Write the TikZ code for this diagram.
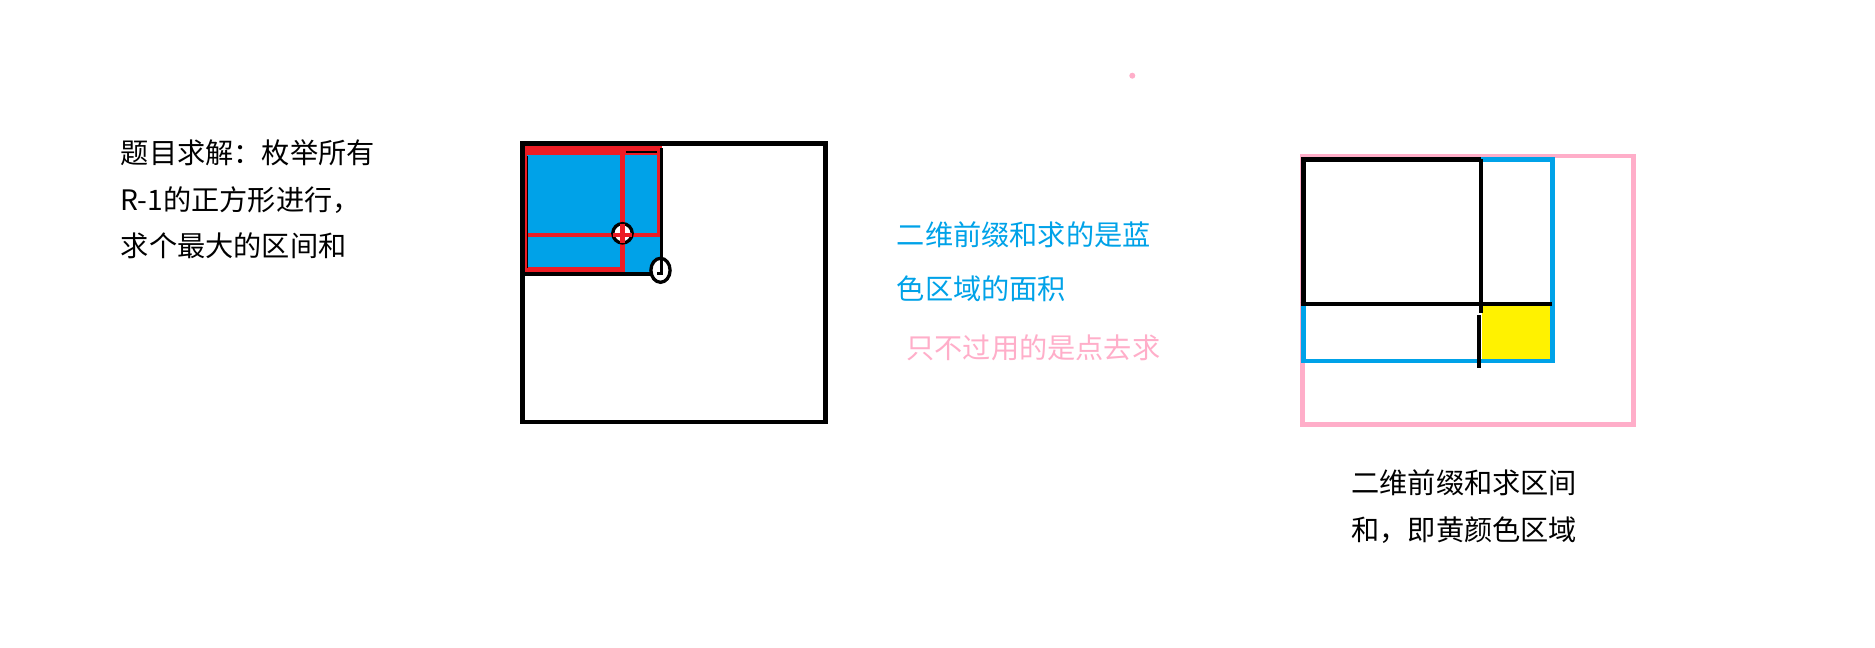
\documentclass[tikz,border=0pt]{standalone}
\usepackage{fontspec}
\usepackage{tikz}
\newfontfamily\cjk{Noto Sans CJK SC}
\definecolor{paintblue}{HTML}{00A2E8}
\definecolor{paintred}{HTML}{ED1C24}
\definecolor{paintyellow}{HTML}{FFF200}
\definecolor{paintpink}{HTML}{FFAEC9}

\begin{document}
\begin{tikzpicture}[x=0.5pt, y=-0.5pt,
    every node/.append style={font=\cjk\fontsize{14.1}{23.3}\selectfont, inner sep=0pt, anchor=north west, align=left},
    frame/.style={draw=black, line width=2.35pt},
    blackline/.style={draw=black, line width=2pt},
    thinline/.style={draw=black, line width=1.5pt},
    redline/.style={draw=paintred, line width=2.3pt},
    blueline/.style={draw=paintblue, line width=2.3pt},
    pinkline/.style={draw=paintpink, line width=2.35pt},
    ringline/.style={draw=black, fill=white, line width=1.65pt}]
    \useasboundingbox (0,0) rectangle (1875,648);

    \node (task) at (120.5,139.5) {题目求解：枚举所有\\R-1的正方形进行，\\求个最大的区间和};
    \node (bluenote) [text=paintblue, font=\cjk\fontsize{14.1}{27}\selectfont] at (896.5,221) {二维前缀和求的是蓝\\色区域的面积};
    \node (pinknote) [text=paintpink] at (906,334.5) {只不过用的是点去求};
    \node (yellownote) at (1351,469.5) {二维前缀和求区间\\和，即黄颜色区域};

    \fill[paintblue] (522,146) rectangle (661,273);
    \fill[paintred] (522,145.3) rectangle (661,154.7);
    \draw[redline] (524.5,146) -- (524.5,272);
    \draw[redline] (522,269.5) -- (625,269.5);
    \draw[redline] (659.3,146) -- (659.3,236.7);
    \draw[redline, line width=2pt] (522,235) -- (661.7,235);
    \draw[redline, line width=2.2pt] (622.5,151.7) -- (622.5,271.7);
    \draw[black, line width=0.8pt] (527.5,156) -- (527.5,268);
    \draw[frame] (522.7,143.3) rectangle (825.3,422);
    \draw[blackline] (522,274) -- (650,274);
    \draw[thinline] (661,148) -- (661,258);
    \draw[black, line width=1pt] (626,151.7) -- (657,151.7);
    \draw[ringline] (622.5,233.3) circle [radius=9.7];
    \draw[redline, line width=2pt] (613,234.7) -- (632,234.7);
    \draw[redline, line width=2.5pt] (622.5,224) -- (622.5,243);
    \draw[ringline] (660.5,270.3) ellipse [x radius=9.6, y radius=12];
    \draw[thinline] (661,258) -- (661,273) -- (657,273);

    \fill[paintyellow] (1481.7,306) rectangle (1550,359.3);
    \draw[pinkline] (1302.7,156) rectangle (1633.3,424.3);
    \draw[blueline] (1303.3,159.3) rectangle (1552.3,361);
    \draw[frame] (1481,159.3) -- (1303.3,159.3) -- (1303.3,304);
    \draw[blackline] (1300.7,304) -- (1552.3,304);
    \draw[blackline] (1481,159.3) -- (1481,313);
    \draw[blackline] (1479.3,315) -- (1479.3,368.3);
    \fill[paintpink] (1132.3,75.7) circle [radius=3];
\end{tikzpicture}
\end{document}
